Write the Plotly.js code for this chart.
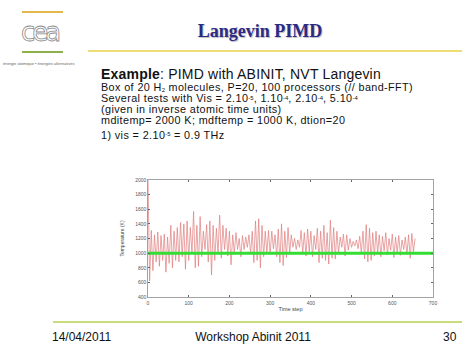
<!DOCTYPE html>
<html><head><meta charset="utf-8">
<script src="https://cdn.plot.ly/plotly-3.0.1.min.js"></script>
<style>
body{margin:0;background:#fff;}
#slide{position:relative;width:474px;height:355px;overflow:hidden;background:#fff;font-family:"Liberation Sans",Arial,sans-serif;}
#chart{position:absolute;left:0;top:0;width:474px;height:355px;}
.t{position:absolute;white-space:nowrap;color:#111;line-height:10px;}
.b{font-size:10.8px;letter-spacing:0.4px;}
.hl{position:absolute;}
sup,sub{font-size:55%;line-height:0;vertical-align:baseline;position:relative;letter-spacing:0;}
sup{top:-0.35em;}
sub{top:0.15em;}
</style></head>
<body>
<div id="slide">
  <div id="chart"></div>
  <div class="hl" style="left:22px;top:11px;width:41px;height:2px;background:#e3b84a"></div>
  <div class="t" style="left:21px;top:20px;line-height:24px;font-size:26px;color:#fff;-webkit-text-stroke:0.8px #8a8a8a;letter-spacing:-3px;font-family:'DejaVu Sans';">cea</div>
  <div class="hl" style="left:22px;top:51px;width:41px;height:2px;background:#8fb14a"></div>
  <div class="t" style="left:3px;top:61px;font-size:4px;line-height:5px;color:#666;">énergie atomique • énergies alternatives</div>
  <div class="t" style="left:160px;width:200px;text-align:center;top:20px;line-height:22px;font-size:18px;font-weight:bold;color:#2b2b86;font-family:'Liberation Serif','Times New Roman',serif;text-shadow:1px 1px 1px #bbb;">Langevin PIMD</div>
  <div class="hl" style="left:88px;top:50px;width:374px;height:2px;background:#eedd77"></div>

  <div class="t" style="left:101px;top:66.5px;line-height:14px;font-size:14px;letter-spacing:0.2px;"><b>Example</b>: PIMD with ABINIT, NVT Langevin</div>
  <div class="t b" style="left:101px;top:82px;">Box of 20 H<sub>2</sub> molecules, P=20, 100 processors (// band-FFT)</div>
  <div class="t b" style="left:101px;top:93px;">Several tests with Vis = 2.10<sup>-5</sup>, 1.10<sup>-4</sup>, 2.10<sup>-4</sup>, 5.10<sup>-4</sup></div>
  <div class="t b" style="left:101px;top:104px;">(given in inverse atomic time units)</div>
  <div class="t b" style="left:101px;top:115px;">mditemp= 2000 K; mdftemp = 1000 K, dtion=20</div>
  <div class="t b" style="left:101px;top:129.5px;">1) vis = 2.10<sup>-5</sup> = 0.9 THz</div>

  <div class="hl" style="left:53px;top:321px;width:409px;height:2px;background:#c9dc7c"></div>
  <div class="t" style="left:52px;top:331px;font-size:12px;line-height:12px;">14/04/2011</div>
  <div class="t" style="left:153px;width:200px;text-align:center;top:331px;font-size:12px;line-height:12px;">Workshop Abinit 2011</div>
  <div class="t" style="left:443px;top:331px;font-size:12px;line-height:12px;">30</div>
</div>
<script>
// Time axis sampling interval (steps) and temperatures
const stepInterval = 4;
const temperatures = [
 2000,620,1310,760,1250,880,1290,820,1240,900,1260,740,1220,860,1380,800,1300,900,1350,880,
 1420,950,1400,780,1440,900,1350,1000,1570,800,1380,820,1500,950,1300,1050,1390,880,1440,700,
 1380,900,1340,1000,1520,930,1380,1050,1340,960,1300,840,1250,1000,1280,1050,1200,950,1240,1050,
 1220,1080,1250,990,1300,870,1440,900,1470,800,1380,950,1300,1000,1310,980,1300,1060,1250,950,
 1330,870,1400,830,1300,940,1350,1000,1250,1080,1200,1050,1180,1080,1310,1000,1280,960,1330,1020,
 1300,950,1240,1050,1340,870,1300,930,1380,900,1280,850,1450,930,1350,920,1300,1000,1220,1080,
 1260,960,1250,1040,1200,1080,1160,1100,1180,1060,1230,1000,1300,920,1390,880,1340,900,1280,960,
 1300,1000,1250,950,1230,1030,1280,980,1200,1040,1260,940,1220,1010,1240,970,1180,1050,1220,980,
 1250,930,1270,1020,1200
];
const timeSteps = temperatures.map((_, i) => i * stepInterval);
const targetTemp = 1000;      // mdftemp
const xRange = [0, 700];
const yRange = [400, 2000];

const traces = [
  {x: timeSteps, y: temperatures, type: 'scatter', mode: 'lines',
   line: {color: '#e07c7c', width: 0.7}, hoverinfo: 'skip'},
  {x: xRange, y: [targetTemp, targetTemp], type: 'scatter', mode: 'lines',
   line: {color: '#33dd33', width: 3}, hoverinfo: 'skip'}
];
const axisCommon = {showline: true, mirror: 'allticks', linecolor: '#666', linewidth: 0.6,
  ticks: 'inside', ticklen: 2, tickcolor: '#666', showgrid: false, zeroline: false,
  tickfont: {size: 5, color: '#555', family: 'Liberation Sans'}};
const layout = {
  width: 474, height: 355,
  margin: {l: 148, r: 41, t: 180, b: 58},
  paper_bgcolor: 'rgba(0,0,0,0)', plot_bgcolor: '#fff',
  showlegend: false,
  xaxis: Object.assign({}, axisCommon, {range: xRange, dtick: 100, ticklabelstandoff: 1,
    title: {text: 'Time step', font: {size: 5.5, color: '#444', family: 'Liberation Sans'}, standoff: 2}}),
  yaxis: Object.assign({}, axisCommon, {range: yRange, dtick: 200,
    title: {text: 'Temperature (K)', font: {size: 5, color: '#444', family: 'Liberation Sans'}, standoff: 10}})
};
Plotly.newPlot('chart', traces, layout, {staticPlot: true, displayModeBar: false});
</script>
</body></html>
